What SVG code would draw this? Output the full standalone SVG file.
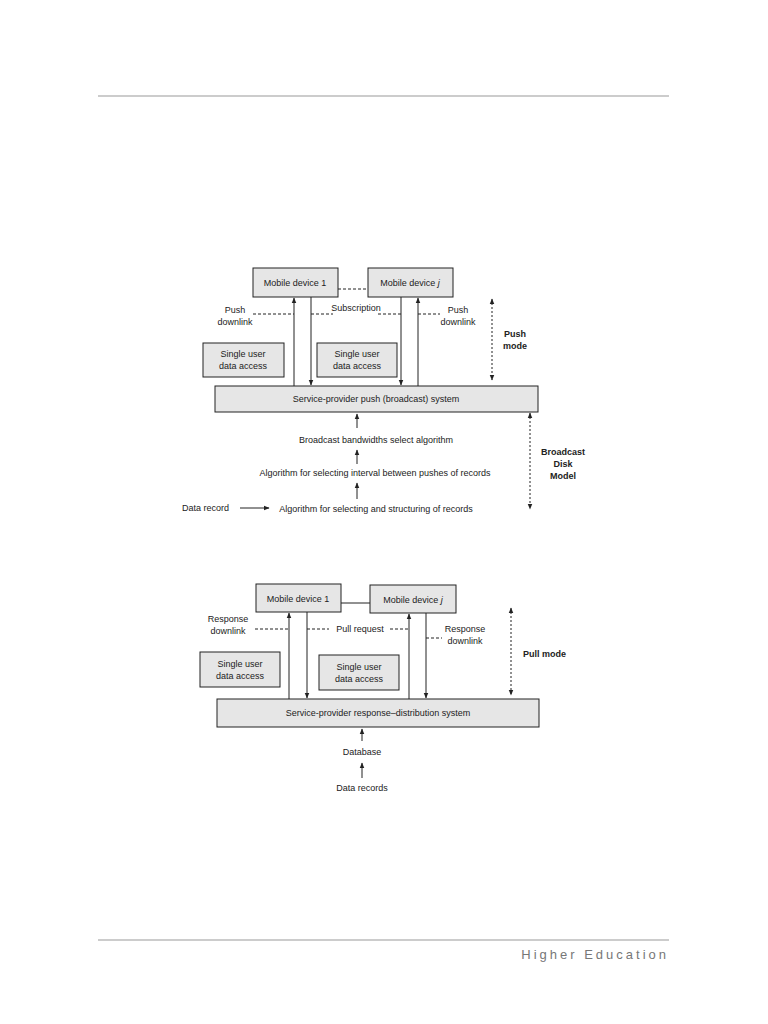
<svg xmlns="http://www.w3.org/2000/svg" width="768" height="1024" viewBox="0 0 768 1024">
<style>
text{font-family:"Liberation Sans",Arial,sans-serif;font-size:9px;fill:#222}
.c{text-anchor:middle}
.b{font-weight:bold}
.box{fill:#e6e6e6;stroke:#222;stroke-width:1}
.ln{stroke:#222;stroke-width:1;fill:none}
.ds{stroke:#222;stroke-width:1;fill:none;stroke-dasharray:3,2}
.dt{stroke:#222;stroke-width:1;fill:none;stroke-dasharray:2,2}
</style>
<defs>
<marker id="a" viewBox="0 0 10 10" refX="9" refY="5" markerWidth="6" markerHeight="6" orient="auto-start-reverse"><path d="M0,1 L10,5 L0,9 z" fill="#222"/></marker>
</defs>
<rect width="768" height="1024" fill="#fff"/>
<line x1="98" y1="96" x2="669" y2="96" stroke="#999"/>
<line x1="98" y1="940" x2="669" y2="940" stroke="#999"/>
<text x="669" y="959" text-anchor="end" style="font-size:13px;letter-spacing:3px;fill:#777">Higher Education</text>

<g id="connectors">
<line class="ds" x1="338" y1="289" x2="368" y2="289"/>
<line class="ln" x1="294" y1="386" x2="294" y2="298" marker-end="url(#a)"/>
<line class="ln" x1="311" y1="297" x2="311" y2="385" marker-end="url(#a)"/>
<line class="ln" x1="401" y1="297" x2="401" y2="385" marker-end="url(#a)"/>
<line class="ln" x1="418" y1="386" x2="418" y2="298" marker-end="url(#a)"/>
<line class="ds" x1="253" y1="314" x2="294" y2="314"/>
<line class="ds" x1="311" y1="314" x2="333" y2="314"/>
<line class="ds" x1="378" y1="314" x2="401" y2="314"/>
<line class="ds" x1="418" y1="314" x2="440" y2="314"/>
<line class="dt" x1="492" y1="299" x2="492" y2="380" marker-start="url(#a)" marker-end="url(#a)"/>
<line class="ln" x1="357" y1="428" x2="357" y2="414" marker-end="url(#a)"/>
<line class="ln" x1="357" y1="464" x2="357" y2="450" marker-end="url(#a)"/>
<line class="ln" x1="357" y1="499" x2="357" y2="483" marker-end="url(#a)"/>
<line class="ln" x1="240" y1="508" x2="269" y2="508" marker-end="url(#a)"/>
<line class="dt" x1="530" y1="413" x2="530" y2="509" marker-start="url(#a)" marker-end="url(#a)"/>

<line class="ln" x1="341" y1="603" x2="370" y2="603"/>
<line class="ln" x1="289" y1="699" x2="289" y2="613" marker-end="url(#a)"/>
<line class="ln" x1="307" y1="612" x2="307" y2="698" marker-end="url(#a)"/>
<line class="ln" x1="409" y1="699" x2="409" y2="614" marker-end="url(#a)"/>
<line class="ln" x1="426" y1="612" x2="426" y2="698" marker-end="url(#a)"/>
<line class="ds" x1="255" y1="629" x2="289" y2="629"/>
<line class="ds" x1="307" y1="629" x2="329" y2="629"/>
<line class="ds" x1="390" y1="629" x2="409" y2="629"/>
<line class="ds" x1="426" y1="638" x2="442" y2="638"/>
<line class="dt" x1="511" y1="608" x2="511" y2="695" marker-start="url(#a)" marker-end="url(#a)"/>
<line class="ln" x1="362" y1="741" x2="362" y2="729" marker-end="url(#a)"/>
<line class="ln" x1="362" y1="778" x2="362" y2="763" marker-end="url(#a)"/>
</g>

<g id="md1-push"><rect class="box" x="253" y="268" width="85" height="29"/><text class="c" x="295" y="286">Mobile device 1</text></g>
<g id="mdj-push"><rect class="box" x="368" y="268" width="85" height="29"/><text class="c" x="410" y="286">Mobile device <tspan font-style="italic">j</tspan></text></g>
<g id="su1-push"><rect class="box" x="203" y="343" width="81" height="34"/><text class="c" x="243" y="357">Single user</text><text class="c" x="243" y="369">data access</text></g>
<g id="su2-push"><rect class="box" x="317" y="343" width="80" height="34"/><text class="c" x="357" y="357">Single user</text><text class="c" x="357" y="369">data access</text></g>
<g id="sp-push"><rect class="box" x="215" y="386" width="323" height="26"/><text class="c" x="376" y="402">Service-provider push (broadcast) system</text></g>
<g id="labels-push">
<text class="c" x="235" y="313">Push</text><text class="c" x="235" y="325">downlink</text>
<text class="c" x="356" y="311">Subscription</text>
<text class="c" x="458" y="313">Push</text><text class="c" x="458" y="325">downlink</text>
<text class="c b" x="515" y="337">Push</text><text class="c b" x="515" y="349">mode</text>
<text class="c" x="376" y="443">Broadcast bandwidths select algorithm</text>
<text class="c" x="375" y="476">Algorithm for selecting interval between pushes of records</text>
<text class="c" x="376" y="512">Algorithm for selecting and structuring of records</text>
<text x="182" y="511">Data record</text>
<text class="c b" x="563" y="455">Broadcast</text><text class="c b" x="563" y="467">Disk</text><text class="c b" x="563" y="479">Model</text>
</g>

<g id="md1-pull"><rect class="box" x="256" y="584" width="85" height="28"/><text class="c" x="298" y="602">Mobile device 1</text></g>
<g id="mdj-pull"><rect class="box" x="370" y="585" width="86" height="28"/><text class="c" x="413" y="603">Mobile device <tspan font-style="italic">j</tspan></text></g>
<g id="su1-pull"><rect class="box" x="200" y="652" width="80" height="35"/><text class="c" x="240" y="667">Single user</text><text class="c" x="240" y="679">data access</text></g>
<g id="su2-pull"><rect class="box" x="319" y="655" width="80" height="35"/><text class="c" x="359" y="670">Single user</text><text class="c" x="359" y="682">data access</text></g>
<g id="sp-pull"><rect class="box" x="217" y="699" width="322" height="28"/><text class="c" x="378" y="716">Service-provider response–distribution system</text></g>
<g id="labels-pull">
<text class="c" x="228" y="622">Response</text><text class="c" x="228" y="634">downlink</text>
<text class="c" x="360" y="632">Pull request</text>
<text class="c" x="465" y="632">Response</text><text class="c" x="465" y="644">downlink</text>
<text class="b" x="523" y="657">Pull mode</text>
<text class="c" x="362" y="755">Database</text>
<text class="c" x="362" y="791">Data records</text>
</g>
</svg>
